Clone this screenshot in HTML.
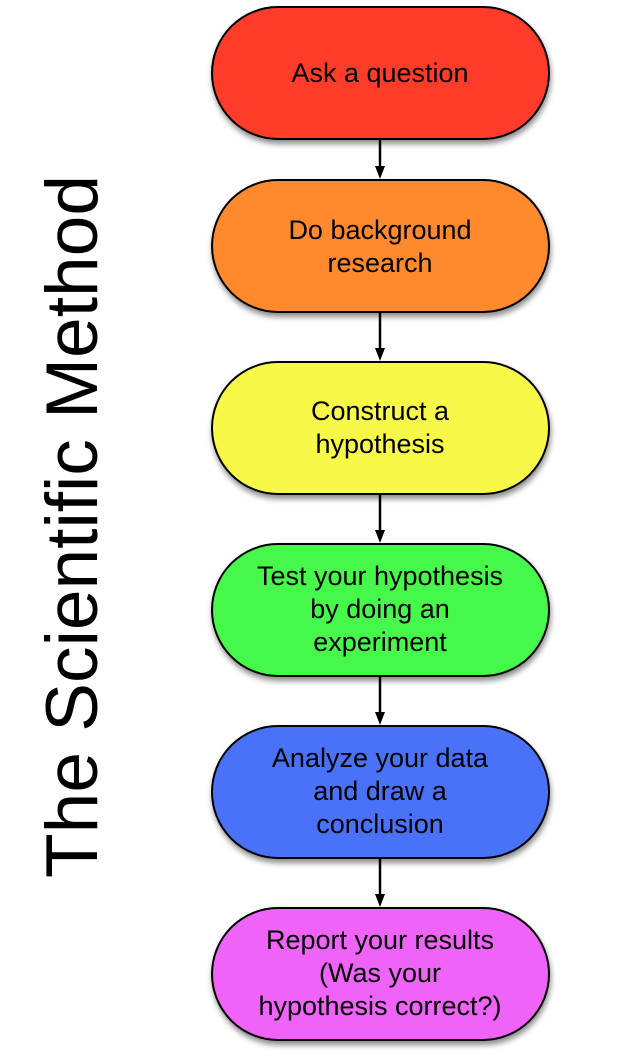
<!DOCTYPE html>
<html><head><meta charset="utf-8"><style>
html,body{margin:0;padding:0;background:#fff;width:631px;height:1059px;overflow:hidden}
</style></head><body>
<svg width="631" height="1059" viewBox="0 0 631 1059" xmlns="http://www.w3.org/2000/svg">
<defs>
<filter id="sh" x="-10%" y="-10%" width="120%" height="130%">
<feGaussianBlur in="SourceAlpha" stdDeviation="3"/>
<feOffset dx="1" dy="4"/>
<feComponentTransfer><feFuncA type="linear" slope="0.45"/></feComponentTransfer>
<feMerge><feMergeNode/><feMergeNode in="SourceGraphic"/></feMerge>
</filter>
</defs>
<text transform="translate(97,878) rotate(-90)" font-family="Liberation Sans, sans-serif" font-size="73" textLength="703" lengthAdjust="spacingAndGlyphs" fill="#000">The Scientific Method</text>
<g stroke="#000" stroke-width="2.5">
<line x1="380" y1="140" x2="380" y2="170"/>
<line x1="380" y1="313" x2="380" y2="352"/>
<line x1="380" y1="495" x2="380" y2="534"/>
<line x1="380" y1="677" x2="380" y2="716"/>
<line x1="380" y1="859" x2="380" y2="898"/>
</g>
<g fill="#000">
<polygon points="375,166 385,166 380,179"/>
<polygon points="375,348 385,348 380,361"/>
<polygon points="375,530 385,530 380,543"/>
<polygon points="375,712 385,712 380,725"/>
<polygon points="375,894 385,894 380,907"/>
</g>
<g stroke="#000" stroke-width="2" filter="url(#sh)">
<rect x="212" y="7" width="337" height="132" rx="66" fill="#ff3b2b"/>
<rect x="212" y="180" width="337" height="132" rx="66" fill="#ff8a2f"/>
<rect x="212" y="362" width="337" height="132" rx="66" fill="#f8f84a"/>
<rect x="212" y="544" width="337" height="132" rx="66" fill="#44f84a"/>
<rect x="212" y="726" width="337" height="132" rx="66" fill="#4a72f8"/>
<rect x="212" y="908" width="337" height="132" rx="66" fill="#f064f8"/>
</g>
<g font-family="Liberation Sans, sans-serif" font-size="27" text-anchor="middle" fill="#000">
<text x="380" y="82">Ask a question</text>
<text x="380" y="239">Do background</text>
<text x="380" y="272">research</text>
<text x="380" y="420">Construct a</text>
<text x="380" y="453">hypothesis</text>
<text x="380" y="585">Test your hypothesis</text>
<text x="380" y="618">by doing an</text>
<text x="380" y="651">experiment</text>
<text x="380" y="767">Analyze your data</text>
<text x="380" y="800">and draw a</text>
<text x="380" y="833">conclusion</text>
<text x="380" y="949">Report your results</text>
<text x="380" y="982">(Was your</text>
<text x="380" y="1015">hypothesis correct?)</text>
</g>
</svg>
</body></html>
